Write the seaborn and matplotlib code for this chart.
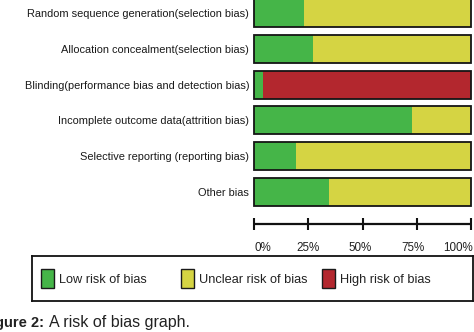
import matplotlib
matplotlib.use("Agg")
import matplotlib.pyplot as plt
import matplotlib.transforms as mtransforms
import seaborn as sns
import pandas as pd
from matplotlib.patches import Patch

# Risk-of-bias domains (top to bottom) and the share of studies in each judgement (%)
domains = [
    "Random sequence generation(selection bias)",
    "Allocation concealment(selection bias)",
    "Blinding(performance bias and detection bias)",
    "Incomplete outcome data(attrition bias)",
    "Selective reporting (reporting bias)",
    "Other bias",
]
low = [23.1, 26.9, 3.8, 73.1, 19.2, 34.6]
unclear = [76.9, 73.1, 0.0, 26.9, 80.8, 65.4]
high = [0.0, 0.0, 96.2, 0.0, 0.0, 0.0]

tick_values = [0, 25, 50, 75, 100]
tick_labels = ["0%", "25%", "50%", "75%", "100%"]
legend_labels = ["Low risk of bias", "Unclear risk of bias", "High risk of bias"]
colors = ["#45b548", "#d5d443", "#b3272e"]

sns.set_theme(style="white")
plt.rcParams["font.family"] = ["Liberation Sans", "DejaVu Sans"]

df = pd.DataFrame({"domain": domains, "low": low, "unclear": unclear, "high": high})
df["low_unclear"] = df["low"] + df["unclear"]
df["total"] = df["low_unclear"] + df["high"]

W, H = 474, 332
fig = plt.figure(figsize=(W / 100, H / 100), dpi=100)
fig.patch.set_facecolor("white")

ax = fig.add_axes([254.3 / W, 1 - 224 / H, 216.4 / W, 224 / H])
ax.set_facecolor("white")

# stacked segments: draw the cumulative totals back to front
for col, c in [("total", colors[2]), ("low_unclear", colors[1]), ("low", colors[0])]:
    sns.barplot(data=df, x=col, y="domain", orient="h", color=c, width=0.78,
                saturation=1, linewidth=0, errorbar=None, ax=ax)
n_before = len(ax.patches)
# one black outline around each whole bar
sns.barplot(data=df, x="total", y="domain", orient="h", color="#151515", fill=False,
            width=0.78, linewidth=1.3, errorbar=None, ax=ax)
for p in ax.patches[n_before:]:
    p.set_clip_on(False)
    p.set_edgecolor("#151515")

ax.set_xlim(0, 100)
ax.set_ylim(5.894, -0.363)
ax.set_xlabel("")
ax.set_ylabel("")
for s in ["top", "right", "left"]:
    ax.spines[s].set_visible(False)
ax.spines["bottom"].set_color("#111111")
ax.spines["bottom"].set_linewidth(1.6)
ax.spines["bottom"].set_capstyle("butt")

ax.set_xticks(tick_values, tick_labels)
ax.tick_params(axis="x", bottom=True, direction="inout", length=8, width=1.5,
               color="#111111", pad=9, labelsize=8.4, labelcolor="#222222")
ax.tick_params(axis="y", left=False, length=0, pad=3.6, labelsize=7.9, labelcolor="#1a1a1a")

# keep the end labels inside the scale's span
xlabels = ax.get_xticklabels()
xlabels[0].set_horizontalalignment("left")
xlabels[-1].set_horizontalalignment("right")
xlabels[-1].set_transform(xlabels[-1].get_transform()
                          + mtransforms.ScaledTranslation(2 / 100, 0, fig.dpi_scale_trans))
for lbl, dx in [(xlabels[2], -2), (xlabels[3], -4)]:
    lbl.set_transform(lbl.get_transform()
                      + mtransforms.ScaledTranslation(dx / 100, 0, fig.dpi_scale_trans))

# legend panel
lax = fig.add_axes([32 / W, 1 - 301 / H, 441 / W, 45 / H])
lax.set_xticks([])
lax.set_yticks([])
lax.set_facecolor("white")
for s in lax.spines.values():
    s.set_visible(True)
    s.set_color("#111111")
    s.set_linewidth(1.3)

anchors = [(41 - 32) / 441, (181 - 32) / 441, (322 - 32) / 441]
for lab, c, xa in zip(legend_labels, colors, anchors):
    leg = lax.legend(handles=[Patch(facecolor=c, edgecolor="#1a1a1a", linewidth=1.0, label=lab)],
                     loc="center left", bbox_to_anchor=(xa, 0.5), frameon=False,
                     borderpad=0, borderaxespad=0, handlelength=1.0, handleheight=1.9,
                     handletextpad=0.4, fontsize=9.2, labelcolor="#222222")
    lax.add_artist(leg)
lax.legend_ = None

# caption below the chart; its start runs past the left edge
fig.text(44 / W, 1 - 323 / H, "Figure 2:", fontsize=10.5, fontweight="bold",
         va="center", ha="right", color="#222222")
fig.text(49 / W, 1 - 323 / H, "A risk of bias graph.", fontsize=11.5,
         va="center", ha="left", color="#222222")

fig.savefig("out.png", dpi=100, facecolor="white")
